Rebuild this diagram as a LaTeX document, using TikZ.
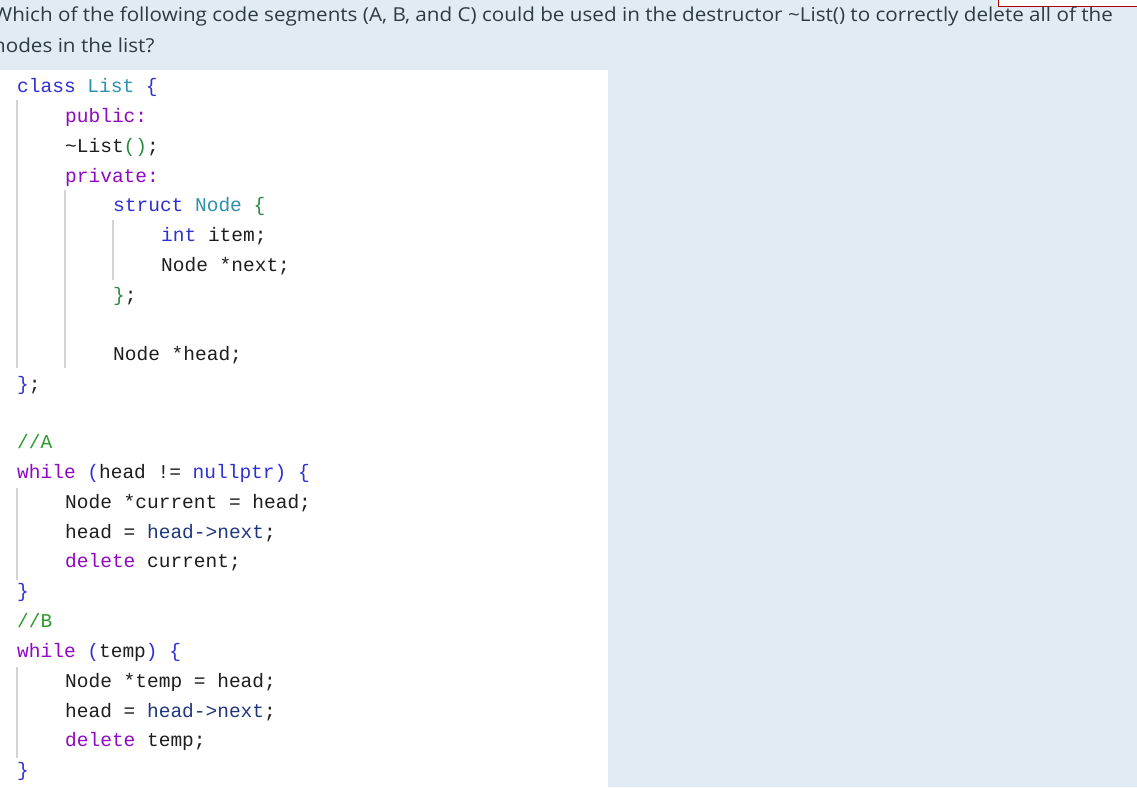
\documentclass[tikz,border=0pt]{standalone}
\usepackage{fontspec}
\setmainfont{Open Sans}
\setmonofont{Liberation Mono}
\definecolor{bg}{HTML}{E1EBF4}
\definecolor{txt}{HTML}{2D3B45}
\definecolor{kw}{HTML}{2F2FD8}
\definecolor{ctl}{HTML}{8F08C4}
\definecolor{typ}{HTML}{2B91AF}
\definecolor{var}{HTML}{1F377F}
\definecolor{cmt}{HTML}{2E9A2E}
\definecolor{brg}{HTML}{2E8A40}
\definecolor{brb}{HTML}{2F2FD8}
\definecolor{guide}{HTML}{D4D4D4}
\definecolor{code}{HTML}{1E1E1E}
\newcommand{\K}[1]{\textcolor{kw}{#1}}
\newcommand{\C}[1]{\textcolor{ctl}{#1}}
\newcommand{\T}[1]{\textcolor{typ}{#1}}
\newcommand{\V}[1]{\textcolor{var}{#1}}
\newcommand{\G}[1]{\textcolor{brg}{#1}}
\newcommand{\Cm}[1]{\textcolor{cmt}{#1}}
\begin{document}
\begin{tikzpicture}[x=1pt,y=-1pt,
  cl/.style={anchor=base west,inner sep=0pt,font=\fontsize{19.5}{20}\ttfamily,text=code},
  qt/.style={anchor=base west,inner sep=0pt,font=\fontsize{19.2}{20}\selectfont,text=txt},
  gl/.style={guide,line width=1.2pt}]
\fill[bg] (0,0) rectangle (1137,787);
\useasboundingbox (0,0) rectangle (1137,787);
\fill[white] (0,70) rectangle (608,787);
\draw[red!70!black,fill=white] (998,-2) rectangle (1140,6);
\node[qt] (q1) at (-7,21) {\scalebox{1.075}[1]{Which of the following code segments (A, B, and C) could be used in the destructor \textasciitilde List() to correctly delete all of the}};
\node[qt] (q2) at (-7,52) {\scalebox{1.075}[1]{nodes in the list?}};
% guides
\draw[gl] (17,100) -- (17,368);
\draw[gl] (65,190) -- (65,368);
\draw[gl] (113,220) -- (113,280);
\draw[gl] (17,488) -- (17,580);
\draw[gl] (17,667) -- (17,758);
\node[cl] (l1) at (17,92) {\K{class} \T{List} \textcolor{brb}{\{}};
\node[cl] (l2) at (65,122) {\C{public:}};
\node[cl] (l3) at (65,152) {\textasciitilde List\G{()};};
\node[cl] (l4) at (65,182) {\C{private:}};
\node[cl] (l5) at (113,211) {\K{struct} \T{Node} \G{\{}};
\node[cl] (l6) at (161,241) {\K{int} item;};
\node[cl] (l7) at (161,271) {Node *next;};
\node[cl] (l8) at (113,301) {\G{\}};};
\node[cl] (l9) at (113,360) {Node *head;};
\node[cl] (l10) at (17,390) {\textcolor{brb}{\}};};
\node[cl] (a0) at (17,448) {\Cm{//A}};
\node[cl] (a1) at (17,478) {\C{while} \textcolor{brb}{(}head != \K{nullptr}\textcolor{brb}{)} \textcolor{brb}{\{}};
\node[cl] (a2) at (65,508) {Node *current = head;};
\node[cl] (a3) at (65,538) {head = \V{head->next};};
\node[cl] (a4) at (65,567) {\C{delete} current;};
\node[cl] (a5) at (17,597) {\textcolor{brb}{\}}};
\node[cl] (b0) at (17,627) {\Cm{//B}};
\node[cl] (b1) at (17,657) {\C{while} \textcolor{brb}{(}temp\textcolor{brb}{)} \textcolor{brb}{\{}};
\node[cl] (b2) at (65,687) {Node *temp = head;};
\node[cl] (b3) at (65,717) {head = \V{head->next};};
\node[cl] (b4) at (65,746) {\C{delete} temp;};
\node[cl] (b5) at (17,776) {\textcolor{brb}{\}}};
\end{tikzpicture}
\end{document}
